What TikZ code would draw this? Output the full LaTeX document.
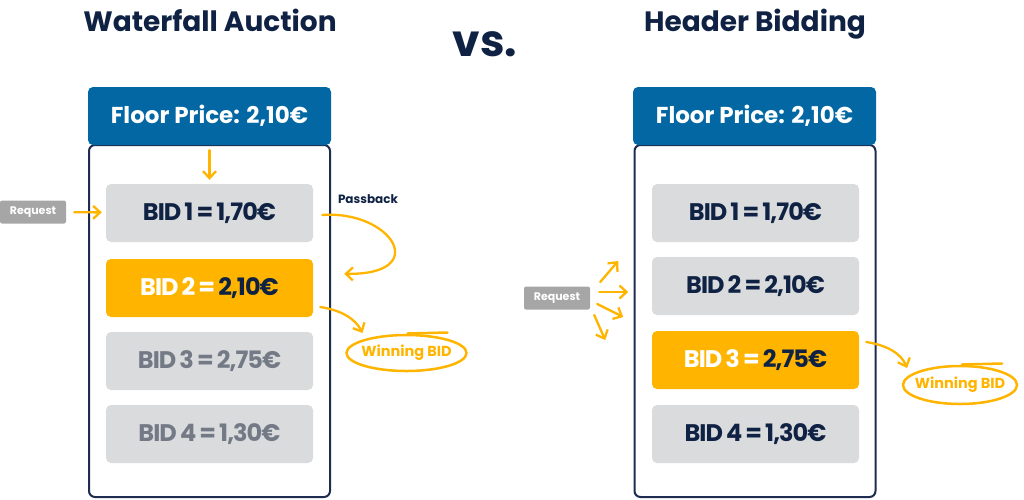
\documentclass[tikz,border=0pt]{standalone}
\usepackage{fontspec}
\setmainfont{Poppins}
\newfontfamily\bidfamily{Poppins}[LetterSpace=-4,WordSpace=0.75]
\usetikzlibrary{arrows.meta,calc}
\definecolor{navy}{HTML}{0F2244}
\definecolor{hdrblue}{HTML}{0267A2}
\definecolor{gold}{HTML}{FFB500}
\definecolor{bidgray}{HTML}{DADBDD}
\definecolor{dimgray}{HTML}{737A86}
\definecolor{reqgray}{HTML}{A6A6A6}
\definecolor{framenavy}{HTML}{1E2C4F}
\begin{document}
\begin{tikzpicture}[x=1pt,y=-1pt,
  title/.style={text=navy, font=\bfseries\fontsize{28}{32}\selectfont, anchor=base, inner sep=0pt},
  floor/.style={fill=hdrblue, rounded corners=5pt, minimum width=243pt, minimum height=58pt, inner sep=0pt, text=white, font=\bfseries\fontsize{23}{27}\selectfont},
  frame/.style={draw=framenavy, line width=2pt, rounded corners=6pt, minimum width=241pt, minimum height=352pt},
  bid/.style={fill=bidgray, rounded corners=5pt, minimum width=207pt, minimum height=58pt, inner sep=0pt, text=navy, font=\bidfamily\bfseries\fontsize{24}{28}\selectfont},
  dimbid/.style={bid, text=dimgray},
  topbid/.style={bid, fill=gold, text=white},
  req/.style={fill=reqgray, rounded corners=2pt, minimum width=66pt, minimum height=23pt, inner sep=0pt, text=white, font=\bfseries\fontsize{11}{12}\selectfont},
  arr/.style={draw=gold, line width=2.3pt, line cap=round, -{Straight Barb[length=7pt,width=13pt]}},
  winner/.style={text=gold, inner sep=0pt, font=\bfseries\fontsize{14.5}{17}\selectfont},
  ring/.style={draw=gold, line width=2.5pt, line cap=round}
]
\useasboundingbox (0,0) rectangle (1024,499);

\node[title] (titleL) at (210,31) {Waterfall Auction};
\node[title, font=\bfseries\fontsize{44}{48}\selectfont] (vs) at (485,56) {vs.};
\node[title] (titleR) at (755,31) {Header Bidding};

% waterfall
\node[frame] (frameL) at (209.5,321) {};
\node[floor] (floorL) at (209.5,116) {Floor Price: 2,10€};
\node[bid] (bid1L) at (209.5,213) {BID 1 = 1,70€};
\node[topbid] (bid2L) at (209.5,288) {BID 2 = \textcolor{navy}{2,10€}};
\node[dimbid] (bid3L) at (209.5,361) {BID 3 = 2,75€};
\node[dimbid] (bid4L) at (209.5,434) {BID 4 = 1,30€};
\node[req] (reqL) at (33,212) {Request};
\node[text=navy, font=\bfseries\fontsize{12}{14}\selectfont] (pass) at (368,199) {Passback};
\node[winner] (winL) at (406.5,353) {Winning BID};
\draw[ring] (winL.center) ellipse [x radius=60, y radius=18];
\draw[ring] ($(winL.center)+(1,-19.5)$) -- ++(40,-1);

\draw[arr, shorten <=5pt, shorten >=4pt] (floorL) -- (bid1L);
\draw[arr, shorten <=8pt, shorten >=4pt] (reqL) -- (bid1L);
\coordinate (pbA) at ($(bid1L.east)+(9,2)$);
\coordinate (pbB) at ($(bid2L.north east)+(31,15)$);
\draw[arr] (pbA) .. controls (392,210) and (432,275) .. (pbB);
\coordinate (wlA) at ($(bid2L.east)+(7,19)$);
\coordinate (wlB) at ($(winL.center)+(-44,-20)$);
\draw[arr] (wlA) .. controls (340,310) and (355,318) .. (wlB);

% header bidding
\node[frame] (frameR) at (755,321) {};
\node[floor] (floorR) at (754.5,116) {Floor Price: 2,10€};
\node[bid] (bid1R) at (755.5,213) {BID 1 = 1,70€};
\node[bid] (bid2R) at (755.5,286) {BID 2 = 2,10€};
\node[topbid] (bid3R) at (755.5,360) {BID 3 = \textcolor{navy}{2,75€}};
\node[bid] (bid4R) at (755.5,434) {BID 4 = 1,30€};
\node[req] (reqR) at (557,298) {Request};
\node[winner] (winR) at (960,385) {Winning BID};
\draw[ring] (winR.center) ellipse [x radius=57, y radius=19];
\draw[ring] ($(winR.center)+(2,-20.5)$) -- ++(40,-1);

\foreach \a/\b/\c/\d in {10/-16/28/-37, 9/-6/38/-6, 7/6/33/19, 4/17/15/42}
  \draw[arr] ($(reqR.east)+(\a,\b)$) -- ($(reqR.east)+(\c,\d)$);
\coordinate (wrA) at ($(bid3R.east)+(7,-18)$);
\coordinate (wrB) at ($(winR.center)+(-53,-17)$);
\draw[arr] (wrA) .. controls (886,345) and (901,353) .. (wrB);
\end{tikzpicture}
\end{document}
